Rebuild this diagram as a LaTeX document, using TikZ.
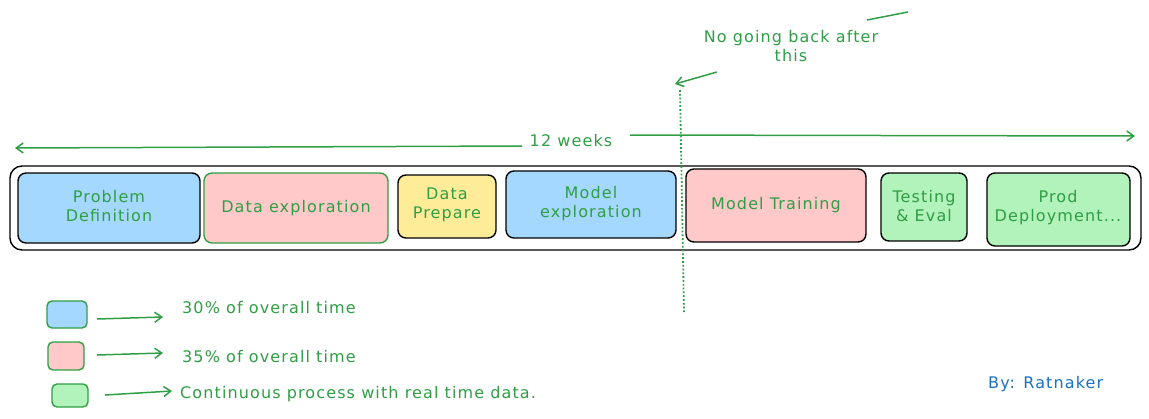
\documentclass[tikz,border=0pt]{standalone}
\usepackage{fontspec}
\setmainfont{DejaVu Sans}[LetterSpace=7]
\usetikzlibrary{arrows.meta}
\definecolor{gr}{RGB}{47,158,68}
\definecolor{bl}{RGB}{165,216,255}
\definecolor{pk}{RGB}{255,201,201}
\definecolor{ye}{RGB}{255,236,153}
\definecolor{lg}{RGB}{178,242,187}
\definecolor{au}{RGB}{25,113,194}
\begin{document}
\begin{tikzpicture}[x=1pt,y=-1pt,
 box/.style={rounded corners=8pt,line width=1.4pt,draw=#1},
 lab/.style={text=gr,font=\fontsize{16}{19}\selectfont,align=center,inner sep=0pt},
 arr/.style={draw=gr,line width=1.5pt,-{Straight Barb[length=7pt,width=10pt]}}]
\useasboundingbox (0,0) rectangle (1149,418);
\draw[rounded corners=12pt,line width=1.4pt] (10,166) rectangle (1141,250);
\draw[box=black,fill=bl] (18,173) rectangle (200,243);
\node[lab] (p) at (109,206) {Problem\\Definition};
\draw[box=gr,fill=pk] (204,173) rectangle (388,243);
\node[lab] (d) at (296,208) {Data exploration};
\draw[box=black,fill=ye] (398,175) rectangle (496,238);
\node[lab] (dp) at (447,205) {Data\\Prepare};
\draw[box=black,fill=bl] (506,171) rectangle (676,238);
\node[lab] (me) at (591,204) {Model\\exploration};
\draw[box=black,fill=pk] (686,169) rectangle (866,242);
\node[lab] (mt) at (776,205) {Model Training};
\draw[box=black,fill=lg] (881,173) rectangle (967,241);
\node[lab] (te) at (924,206) {Testing\\\& Eval};
\draw[box=black,fill=lg] (987,173) rectangle (1130,246);
\node[lab] (pd) at (1058,208) {Prod\\Deployment...};
% 12 weeks
\node[lab] (w) at (571,141) {12 weeks};
\coordinate (wl) at (15,148); \coordinate (wr) at (1135,136);
\draw[arr] (522,146) -- (wl);
\draw[arr] (630,135) -- (wr);
% dotted
\coordinate (t1) at (680,90); \coordinate (t2) at (684,312);
\draw[gr,line width=1.8pt,dotted] (t1) -- (t2);
\node[lab] (ng) at (791,46) {No going back after\\this};
\draw[gr,line width=1.5pt] (867,20) -- (908,12);
\coordinate (na) at (675,84);
\draw[arr] (717,72) -- (na);
% legend
\draw[box=gr,fill=bl,rounded corners=5pt] (47,301) rectangle (87,328);
\draw[box=gr,fill=pk,rounded corners=5pt] (48,342) rectangle (84,370);
\draw[box=gr,fill=lg,rounded corners=5pt] (52,384) rectangle (88,407);
\draw[arr] (97,319) -- (163,317);
\draw[arr] (97,355) -- (163,353);
\draw[arr] (105,395) -- (172,391);
\node[lab,anchor=west] (l1) at (182,308) {30\% of overall time};
\node[lab,anchor=west] (l2) at (182,357) {35\% of overall time};
\node[lab,anchor=west] (l3) at (180,394) {Continuous process with real time data.};
\node[lab,text=au,anchor=west] (by) at (988,384) {By: Ratnaker};
\end{tikzpicture}
\end{document}
